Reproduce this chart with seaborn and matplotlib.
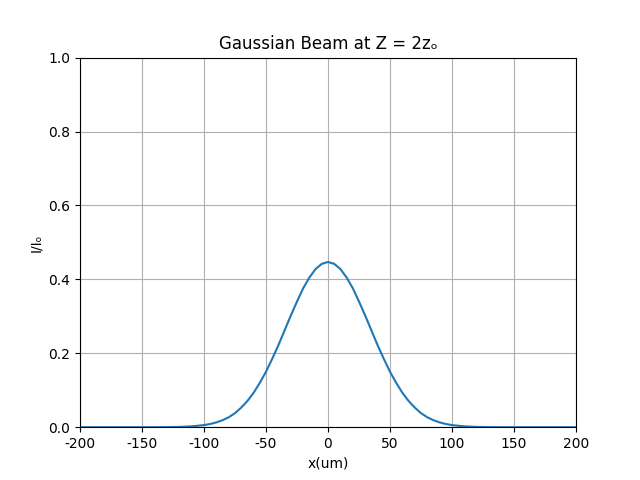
import numpy as np
import pandas as pd
import matplotlib
matplotlib.use('Agg')
import matplotlib.pyplot as plt
import seaborn as sns

# intensity profile (one half, mirrored below)
x_half = [0, 5, 10, 15, 20, 25, 30, 35, 40, 45, 50, 55, 60, 65, 70, 75, 80, 85, 90, 95,
          100, 110, 120, 130, 140, 150, 160, 170, 180, 190, 200]
i_half = [0.447, 0.442, 0.428, 0.405, 0.376, 0.340, 0.302, 0.262, 0.222, 0.185, 0.150,
          0.120, 0.093, 0.071, 0.053, 0.038, 0.027, 0.019, 0.013, 0.0087,
          0.0057, 0.0023, 0.0008, 0.0003, 0.0001, 0.0, 0.0, 0.0, 0.0, 0.0, 0.0]
xticks = [-200, -150, -100, -50, 0, 50, 100, 150, 200]

x = [-v for v in x_half[:0:-1]] + x_half
inten = i_half[:0:-1] + i_half
df = pd.DataFrame({'x': x, 'I': inten})

sns.set_style('ticks', {'axes.edgecolor': 'black', 'text.color': 'black',
                        'axes.labelcolor': 'black', 'xtick.color': 'black',
                        'ytick.color': 'black'})
plt.rcParams['font.family'] = ['DejaVu Sans']
fig, ax = plt.subplots(figsize=(6.4, 4.8), dpi=100)
sns.lineplot(data=df, x='x', y='I', ax=ax, color='#1f77b4', linewidth=1.5)
ax.set_xlim(-200, 200)
ax.set_ylim(0, 1)
ax.set_xticks(xticks)
ax.set_xticklabels([str(t) for t in xticks])
ax.grid(True, color='#b0b0b0', linewidth=0.8)
ax.set_xlabel('x(um)')
ax.set_ylabel('I/Iₒ')
ax.set_title('Gaussian Beam at Z = 2zₒ')
fig.savefig('out.png', dpi=100)
